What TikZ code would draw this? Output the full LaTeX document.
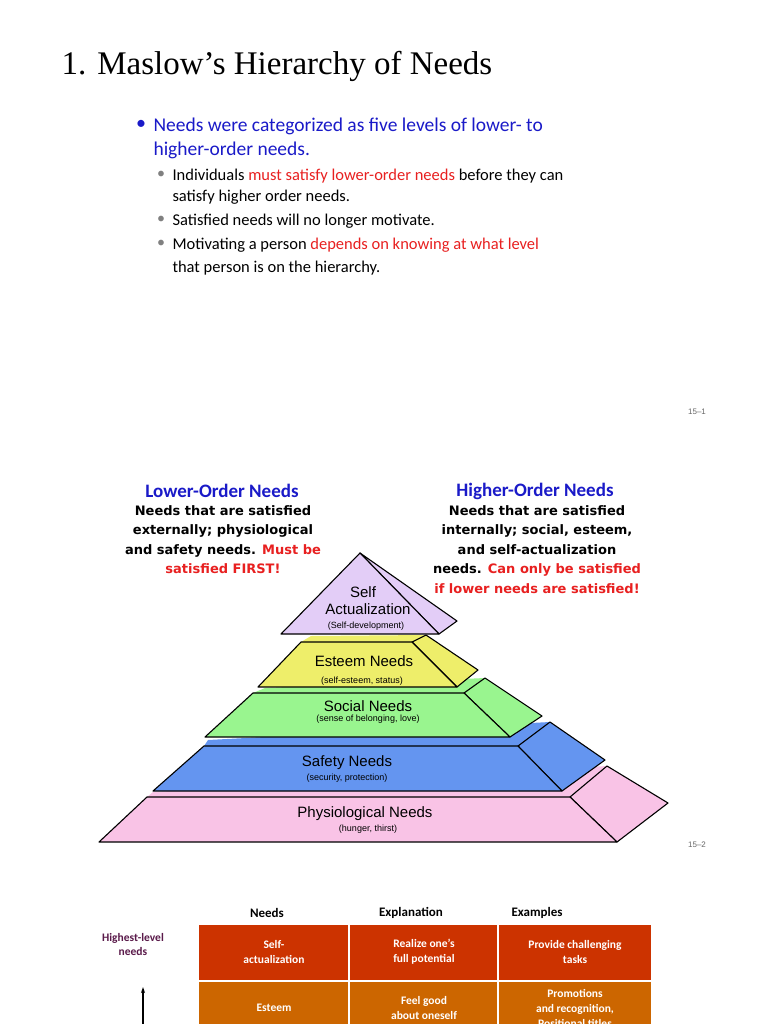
\documentclass[tikz,border=0pt]{standalone}
\usetikzlibrary{arrows.meta}
\usepackage{fontspec}
\setmainfont{Carlito}
\newfontfamily\ser{Liberation Serif}
\newfontfamily\ars{Liberation Sans}
\newfontfamily\dej{DejaVu Sans}
\definecolor{tblue}{HTML}{1A1AC8}
\definecolor{tred}{HTML}{E82020}
\definecolor{lav}{HTML}{E3CDF7}
\definecolor{yel}{HTML}{EEEE6A}
\definecolor{grn}{HTML}{99F58F}
\definecolor{blu}{HTML}{6495F0}
\definecolor{pnk}{HTML}{F9C3E6}
\definecolor{row1}{HTML}{CC3300}
\definecolor{row2}{HTML}{CC6600}
\definecolor{purp}{HTML}{5A1A4A}
\tikzset{face/.style={draw=black,line width=1.1pt,line join=round},
 lbl/.style={font=\ars\fontsize{15}{17}\selectfont},
 sub/.style={font=\ars\fontsize{9}{10}\selectfont},
 cell/.style={font=\bfseries\fontsize{11.5}{15}\selectfont,text=white,align=center},
 hd/.style={font=\bfseries\fontsize{13}{15}\selectfont},
 dj/.style={font=\dej\bfseries\fontsize{13}{19.5}\selectfont,align=center}}
\begin{document}
\begin{tikzpicture}[x=1pt,y=-1pt]
\useasboundingbox[fill=white] (0,0) rectangle (768,1024);
\begin{scope}
\clip (0,0) rectangle (768,1024);
% title
\node[anchor=west,font=\ser\fontsize{33}{36}\selectfont] (title) at (58,66) {1. Maslow’s Hierarchy of Needs};
\node[text=tblue,font=\fontsize{20}{24}\selectfont] (b0) at (141,125) {•};
\node[anchor=west,text=tblue,font=\fontsize{19.5}{24}\selectfont] (b1) at (150,126) {Needs were categorized as five levels of lower- to};
\node[anchor=west,text=tblue,font=\fontsize{19.5}{24}\selectfont] (b2) at (150,150) {higher-order needs.};
\foreach \y in {176,221,245}{\node[text=gray,font=\fontsize{16}{18}\selectfont] at (161,\y-1) {•};}
\begin{scope}[every node/.style={anchor=west,font=\fontsize{16.5}{20}\selectfont}]
\node (s1) at (169,176) {Individuals \textcolor{tred}{must satisfy lower-order needs} before they can};
\node (s2) at (169,197) {satisfy higher order needs.};
\node (s3) at (169,221) {Satisfied needs will no longer motivate.};
\node (s4) at (169,245) {Motivating a person \textcolor{tred}{depends on knowing at what level}};
\node (s5) at (169,268) {that person is on the hierarchy.};
\end{scope}
\node[text=gray!80!black,font=\ars\fontsize{8}{9}\selectfont] (p1) at (697,412) {15–1};
\node[text=gray!80!black,font=\ars\fontsize{8}{9}\selectfont] (p2) at (697,845) {15–2};
% headings
\node[text=tblue,font=\bfseries\fontsize{19}{20}\selectfont] (lo) at (222,491) {Lower-Order Needs};
\node[text=tblue,font=\bfseries\fontsize{19}{20}\selectfont] (hi) at (535,491) {Higher-Order Needs};
\node[dj,anchor=north] (lot) at (223,502) {Needs that are satisfied\\externally; physiological\\and safety needs. \textcolor{tred}{Must be}\\\textcolor{tred}{satisfied FIRST!}};
\node[dj,anchor=north] (hit) at (537,502) {Needs that are satisfied\\internally; social, esteem,\\and self-actualization\\needs. \textcolor{tred}{Can only be satisfied}\\\textcolor{tred}{if lower needs are satisfied!}};
% pyramid: physiological
\fill[pnk] (147,797)--(153,792)--(607,766)--(570,797)--cycle;
\draw[face,fill=pnk] (570,797)--(607,766)--(668,803)--(617,842)--cycle;
\draw[face,fill=pnk] (147,797)--(570,797)--(617,842)--(99,842)--cycle;
% safety
\fill[blu] (204,746)--(208,740)--(550,722)--(518,746)--cycle;
\draw[face,fill=blu] (518,746)--(550,722)--(605,760)--(562,791)--cycle;
\draw[face,fill=blu] (204,746)--(518,746)--(562,791)--(153,791)--cycle;
% social
\fill[grn] (253,693)--(265,688)--(485,678)--(464,693)--cycle;
\draw[face,fill=grn] (464,693)--(485,678)--(542,716)--(510,737)--cycle;
\draw[face,fill=grn] (253,693)--(464,693)--(510,737)--(205,737)--cycle;
% esteem
\fill[yel] (301,642)--(311,636)--(426,635)--(412,642)--cycle;
\draw[face,fill=yel] (412,642)--(426,635)--(478,670)--(457,687)--cycle;
\draw[face,fill=yel] (301,642)--(412,642)--(457,687)--(258,687)--cycle;
% self actualization
\draw[face,fill=lav] (360,553)--(457,621)--(439,634)--cycle;
\draw[face,fill=lav] (360,553)--(439,634)--(281,634)--cycle;
% labels
\node[lbl] (sa1) at (363,592) {Self};
\node[lbl] (sa2) at (368,609) {Actualization};
\node[sub] (sa3) at (366,626) {(Self-development)};
\node[lbl] (es1) at (364,661) {Esteem Needs};
\node[sub] (es2) at (362,681) {(self-esteem, status)};
\node[lbl] (so1) at (368,706) {Social Needs};
\node[sub] (so2) at (368,719) {(sense of belonging, love)};
\node[lbl] (sf1) at (347,763) {Safety Needs};
\node[sub] (sf2) at (347,778) {(security, protection)};
\node[lbl] (ph1) at (365,814) {Physiological Needs};
\node[sub] (ph2) at (368,829) {(hunger, thirst)};
% table
\node[hd] (h1) at (267,913) {Needs};
\node[hd] (h2) at (411,913) {Explanation};
\node[hd] (h3) at (537,913) {Examples};
\fill[row1] (199,925) rectangle (651,980);
\fill[row2] (199,982) rectangle (651,1030);
\draw[white,line width=1.2pt] (349,925)--(349,1030) (498,925)--(498,1030);
\node[cell] (c11) at (274,952) {Self-\\actualization};
\node[cell] (c12) at (424,952) {Realize one’s\\full potential};
\node[cell] (c13) at (575,952) {Provide challenging\\tasks};
\node[cell] (c21) at (274,1008) {Esteem};
\node[cell] (c22) at (424,1008) {Feel good\\about oneself};
\node[cell,anchor=north] (c23) at (575,986) {Promotions\\and recognition,\\Positional titles};
\node[font=\bfseries\fontsize{11.5}{14}\selectfont,text=purp,align=center] (hl) at (133,944) {Highest-level\\needs};
\coordinate (abot) at (143,1030);
\coordinate (atop) at (143,987);
\draw[-{Stealth[length=6pt,width=4pt]},line width=1.2pt] (abot)--(atop);
\end{scope}
\end{tikzpicture}
\end{document}
